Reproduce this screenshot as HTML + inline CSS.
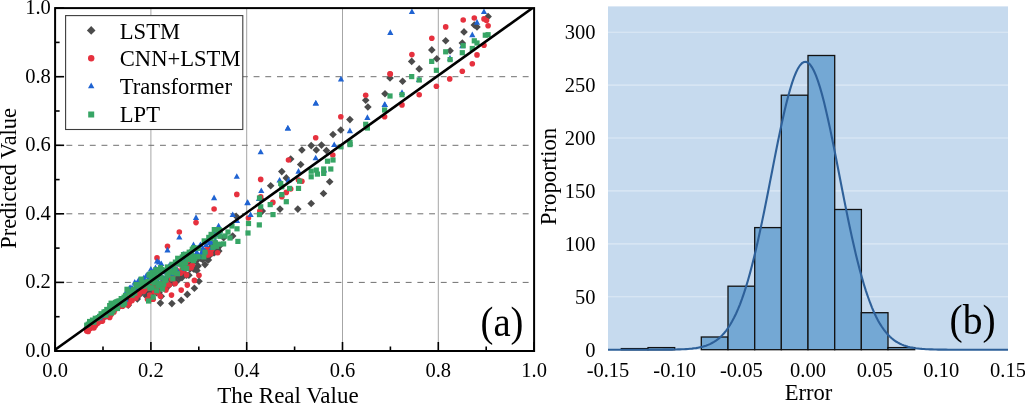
<!DOCTYPE html><html><head><meta charset="utf-8"><title>Figure</title><style>html,body{margin:0;padding:0;background:#fff}svg{display:block}text{font-family:"Liberation Serif","Times New Roman",serif;fill:#000}</style></head><body>
<svg width="1025" height="404" viewBox="0 0 1025 404">
<rect width="1025" height="404" fill="#fff"/>
<line x1="150.9" y1="8.1" x2="150.9" y2="351.0" stroke="#a6a6a6" stroke-width="1"/>
<line x1="55.1" y1="282.4" x2="534.1" y2="282.4" stroke="#707070" stroke-width="1" stroke-dasharray="5.9 5.8" stroke-dashoffset="0.4"/>
<line x1="246.7" y1="8.1" x2="246.7" y2="351.0" stroke="#a6a6a6" stroke-width="1"/>
<line x1="55.1" y1="213.8" x2="534.1" y2="213.8" stroke="#707070" stroke-width="1" stroke-dasharray="5.9 5.8" stroke-dashoffset="0.4"/>
<line x1="342.5" y1="8.1" x2="342.5" y2="351.0" stroke="#a6a6a6" stroke-width="1"/>
<line x1="55.1" y1="145.3" x2="534.1" y2="145.3" stroke="#707070" stroke-width="1" stroke-dasharray="5.9 5.8" stroke-dashoffset="0.4"/>
<line x1="438.3" y1="8.1" x2="438.3" y2="351.0" stroke="#a6a6a6" stroke-width="1"/>
<line x1="55.1" y1="76.7" x2="534.1" y2="76.7" stroke="#707070" stroke-width="1" stroke-dasharray="5.9 5.8" stroke-dashoffset="0.4"/>
<g id="pts">
<path d="M86.7 324.8L90.5 328.6L86.7 332.4L82.9 328.6Z" fill="#4b4b4b"/>
<path d="M88.2 323.9L92.0 327.7L88.2 331.5L84.4 327.7Z" fill="#4b4b4b"/>
<path d="M89.6 321.4L93.4 325.2L89.6 329.0L85.8 325.2Z" fill="#4b4b4b"/>
<path d="M91.0 321.2L94.8 325.0L91.0 328.8L87.2 325.0Z" fill="#4b4b4b"/>
<path d="M92.5 322.2L96.3 326.0L92.5 329.8L88.7 326.0Z" fill="#4b4b4b"/>
<path d="M93.9 318.9L97.7 322.7L93.9 326.5L90.1 322.7Z" fill="#4b4b4b"/>
<path d="M95.3 319.3L99.1 323.1L95.3 326.9L91.5 323.1Z" fill="#4b4b4b"/>
<path d="M96.8 317.4L100.6 321.2L96.8 325.0L93.0 321.2Z" fill="#4b4b4b"/>
<path d="M98.2 316.0L102.0 319.8L98.2 323.6L94.4 319.8Z" fill="#4b4b4b"/>
<path d="M99.6 314.7L103.4 318.5L99.6 322.3L95.8 318.5Z" fill="#4b4b4b"/>
<path d="M101.1 314.6L104.9 318.4L101.1 322.2L97.3 318.4Z" fill="#4b4b4b"/>
<path d="M102.5 313.7L106.3 317.5L102.5 321.3L98.7 317.5Z" fill="#4b4b4b"/>
<path d="M104.0 313.3L107.8 317.1L104.0 320.9L100.2 317.1Z" fill="#4b4b4b"/>
<path d="M105.4 312.2L109.2 316.0L105.4 319.8L101.6 316.0Z" fill="#4b4b4b"/>
<path d="M106.8 312.2L110.6 316.0L106.8 319.8L103.0 316.0Z" fill="#4b4b4b"/>
<path d="M108.3 309.0L112.1 312.8L108.3 316.6L104.5 312.8Z" fill="#4b4b4b"/>
<path d="M109.7 306.2L113.5 310.0L109.7 313.8L105.9 310.0Z" fill="#4b4b4b"/>
<path d="M111.1 307.6L114.9 311.4L111.1 315.2L107.3 311.4Z" fill="#4b4b4b"/>
<path d="M112.6 307.6L116.4 311.4L112.6 315.2L108.8 311.4Z" fill="#4b4b4b"/>
<path d="M114.0 304.2L117.8 308.0L114.0 311.8L110.2 308.0Z" fill="#4b4b4b"/>
<path d="M115.5 304.4L119.3 308.2L115.5 312.0L111.7 308.2Z" fill="#4b4b4b"/>
<path d="M116.9 303.8L120.7 307.6L116.9 311.4L113.1 307.6Z" fill="#4b4b4b"/>
<path d="M118.3 301.8L122.1 305.6L118.3 309.4L114.5 305.6Z" fill="#4b4b4b"/>
<path d="M119.8 302.1L123.6 305.9L119.8 309.7L116.0 305.9Z" fill="#4b4b4b"/>
<path d="M121.2 301.4L125.0 305.2L121.2 309.0L117.4 305.2Z" fill="#4b4b4b"/>
<path d="M122.6 301.6L126.4 305.4L122.6 309.2L118.8 305.4Z" fill="#4b4b4b"/>
<path d="M124.1 297.6L127.9 301.4L124.1 305.2L120.3 301.4Z" fill="#4b4b4b"/>
<path d="M125.5 296.0L129.3 299.8L125.5 303.6L121.7 299.8Z" fill="#4b4b4b"/>
<path d="M127.0 295.9L130.8 299.7L127.0 303.5L123.2 299.7Z" fill="#4b4b4b"/>
<path d="M128.2 301.5L132.0 305.3L128.2 309.1L124.4 305.3Z" fill="#4b4b4b"/>
<path d="M129.5 294.8L133.3 298.6L129.5 302.4L125.7 298.6Z" fill="#4b4b4b"/>
<path d="M130.8 295.4L134.6 299.2L130.8 303.0L127.0 299.2Z" fill="#4b4b4b"/>
<path d="M132.1 293.6L135.9 297.4L132.1 301.2L128.3 297.4Z" fill="#4b4b4b"/>
<path d="M133.4 293.5L137.2 297.3L133.4 301.1L129.6 297.3Z" fill="#4b4b4b"/>
<path d="M134.7 289.6L138.5 293.4L134.7 297.2L130.9 293.4Z" fill="#4b4b4b"/>
<path d="M136.0 291.4L139.8 295.2L136.0 299.0L132.2 295.2Z" fill="#4b4b4b"/>
<path d="M137.3 295.2L141.1 299.0L137.3 302.8L133.5 299.0Z" fill="#4b4b4b"/>
<path d="M138.6 291.9L142.4 295.7L138.6 299.5L134.8 295.7Z" fill="#4b4b4b"/>
<path d="M139.9 287.5L143.7 291.3L139.9 295.1L136.1 291.3Z" fill="#4b4b4b"/>
<path d="M141.2 283.8L145.0 287.6L141.2 291.4L137.4 287.6Z" fill="#4b4b4b"/>
<path d="M142.5 288.4L146.3 292.2L142.5 296.0L138.7 292.2Z" fill="#4b4b4b"/>
<path d="M143.8 283.7L147.6 287.5L143.8 291.3L140.0 287.5Z" fill="#4b4b4b"/>
<path d="M145.1 287.3L148.9 291.1L145.1 294.9L141.3 291.1Z" fill="#4b4b4b"/>
<path d="M146.3 292.2L150.1 296.0L146.3 299.8L142.5 296.0Z" fill="#4b4b4b"/>
<path d="M147.5 286.2L151.3 290.0L147.5 293.8L143.7 290.0Z" fill="#4b4b4b"/>
<path d="M148.6 279.7L152.4 283.5L148.6 287.3L144.8 283.5Z" fill="#4b4b4b"/>
<path d="M149.8 286.6L153.6 290.4L149.8 294.2L146.0 290.4Z" fill="#4b4b4b"/>
<path d="M150.9 290.4L154.7 294.2L150.9 298.0L147.1 294.2Z" fill="#4b4b4b"/>
<path d="M152.1 289.2L155.9 293.0L152.1 296.8L148.3 293.0Z" fill="#4b4b4b"/>
<path d="M153.2 287.2L157.0 291.0L153.2 294.8L149.4 291.0Z" fill="#4b4b4b"/>
<path d="M154.4 284.9L158.2 288.7L154.4 292.5L150.6 288.7Z" fill="#4b4b4b"/>
<path d="M155.5 280.7L159.3 284.5L155.5 288.3L151.7 284.5Z" fill="#4b4b4b"/>
<path d="M156.7 288.9L160.5 292.7L156.7 296.5L152.9 292.7Z" fill="#4b4b4b"/>
<path d="M157.8 281.8L161.6 285.6L157.8 289.4L154.0 285.6Z" fill="#4b4b4b"/>
<path d="M159.0 288.6L162.8 292.4L159.0 296.2L155.2 292.4Z" fill="#4b4b4b"/>
<path d="M160.1 282.0L163.9 285.8L160.1 289.6L156.3 285.8Z" fill="#4b4b4b"/>
<path d="M161.3 292.4L165.1 296.2L161.3 300.0L157.5 296.2Z" fill="#4b4b4b"/>
<path d="M162.4 281.4L166.2 285.2L162.4 289.0L158.6 285.2Z" fill="#4b4b4b"/>
<path d="M163.6 280.1L167.4 283.9L163.6 287.7L159.8 283.9Z" fill="#4b4b4b"/>
<path d="M164.7 284.7L168.5 288.5L164.7 292.3L160.9 288.5Z" fill="#4b4b4b"/>
<path d="M165.9 284.9L169.7 288.7L165.9 292.5L162.1 288.7Z" fill="#4b4b4b"/>
<path d="M167.0 274.1L170.8 277.9L167.0 281.7L163.2 277.9Z" fill="#4b4b4b"/>
<path d="M168.2 279.3L172.0 283.1L168.2 286.9L164.4 283.1Z" fill="#4b4b4b"/>
<path d="M169.3 281.1L173.1 284.9L169.3 288.7L165.5 284.9Z" fill="#4b4b4b"/>
<path d="M170.5 277.1L174.3 280.9L170.5 284.7L166.7 280.9Z" fill="#4b4b4b"/>
<path d="M171.6 277.0L175.4 280.8L171.6 284.6L167.8 280.8Z" fill="#4b4b4b"/>
<path d="M172.8 274.0L176.6 277.8L172.8 281.6L169.0 277.8Z" fill="#4b4b4b"/>
<path d="M173.9 279.3L177.7 283.1L173.9 286.9L170.1 283.1Z" fill="#4b4b4b"/>
<path d="M175.1 273.1L178.9 276.9L175.1 280.7L171.3 276.9Z" fill="#4b4b4b"/>
<path d="M176.2 278.1L180.0 281.9L176.2 285.7L172.4 281.9Z" fill="#4b4b4b"/>
<path d="M177.4 268.6L181.2 272.4L177.4 276.2L173.6 272.4Z" fill="#4b4b4b"/>
<path d="M178.5 271.0L182.3 274.8L178.5 278.6L174.7 274.8Z" fill="#4b4b4b"/>
<path d="M179.7 274.6L183.5 278.4L179.7 282.2L175.9 278.4Z" fill="#4b4b4b"/>
<path d="M180.8 268.3L184.6 272.1L180.8 275.9L177.0 272.1Z" fill="#4b4b4b"/>
<path d="M182.0 273.8L185.8 277.6L182.0 281.4L178.2 277.6Z" fill="#4b4b4b"/>
<path d="M183.1 266.5L186.9 270.3L183.1 274.1L179.3 270.3Z" fill="#4b4b4b"/>
<path d="M184.3 269.6L188.1 273.4L184.3 277.2L180.5 273.4Z" fill="#4b4b4b"/>
<path d="M185.4 270.8L189.2 274.6L185.4 278.4L181.6 274.6Z" fill="#4b4b4b"/>
<path d="M186.6 271.4L190.4 275.2L186.6 279.0L182.8 275.2Z" fill="#4b4b4b"/>
<path d="M187.7 263.6L191.5 267.4L187.7 271.2L183.9 267.4Z" fill="#4b4b4b"/>
<path d="M188.9 271.4L192.7 275.2L188.9 279.0L185.1 275.2Z" fill="#4b4b4b"/>
<path d="M190.0 265.2L193.8 269.0L190.0 272.8L186.2 269.0Z" fill="#4b4b4b"/>
<path d="M191.2 260.0L195.0 263.8L191.2 267.6L187.4 263.8Z" fill="#4b4b4b"/>
<path d="M192.3 262.8L196.1 266.6L192.3 270.4L188.5 266.6Z" fill="#4b4b4b"/>
<path d="M193.5 265.2L197.3 269.0L193.5 272.8L189.7 269.0Z" fill="#4b4b4b"/>
<path d="M194.6 265.2L198.4 269.0L194.6 272.8L190.8 269.0Z" fill="#4b4b4b"/>
<path d="M195.8 257.4L199.6 261.2L195.8 265.0L192.0 261.2Z" fill="#4b4b4b"/>
<path d="M196.9 266.8L200.7 270.6L196.9 274.4L193.1 270.6Z" fill="#4b4b4b"/>
<path d="M198.1 262.1L201.9 265.9L198.1 269.7L194.3 265.9Z" fill="#4b4b4b"/>
<path d="M199.2 254.0L203.0 257.8L199.2 261.6L195.4 257.8Z" fill="#4b4b4b"/>
<path d="M200.4 254.4L204.2 258.2L200.4 262.0L196.6 258.2Z" fill="#4b4b4b"/>
<path d="M201.5 254.3L205.3 258.1L201.5 261.9L197.7 258.1Z" fill="#4b4b4b"/>
<path d="M202.7 255.8L206.5 259.6L202.7 263.4L198.9 259.6Z" fill="#4b4b4b"/>
<path d="M203.8 253.6L207.6 257.4L203.8 261.2L200.0 257.4Z" fill="#4b4b4b"/>
<path d="M205.0 260.8L208.8 264.6L205.0 268.4L201.2 264.6Z" fill="#4b4b4b"/>
<path d="M206.1 253.5L209.9 257.3L206.1 261.1L202.3 257.3Z" fill="#4b4b4b"/>
<path d="M207.3 255.4L211.1 259.2L207.3 263.0L203.5 259.2Z" fill="#4b4b4b"/>
<path d="M208.4 256.2L212.2 260.0L208.4 263.8L204.6 260.0Z" fill="#4b4b4b"/>
<path d="M209.6 251.6L213.4 255.4L209.6 259.2L205.8 255.4Z" fill="#4b4b4b"/>
<path d="M210.7 244.1L214.5 247.9L210.7 251.7L206.9 247.9Z" fill="#4b4b4b"/>
<path d="M211.9 240.8L215.7 244.6L211.9 248.4L208.1 244.6Z" fill="#4b4b4b"/>
<path d="M213.0 248.9L216.8 252.7L213.0 256.5L209.2 252.7Z" fill="#4b4b4b"/>
<path d="M214.2 248.8L218.0 252.6L214.2 256.4L210.4 252.6Z" fill="#4b4b4b"/>
<path d="M215.3 247.8L219.1 251.6L215.3 255.4L211.5 251.6Z" fill="#4b4b4b"/>
<path d="M216.5 246.0L220.3 249.8L216.5 253.6L212.7 249.8Z" fill="#4b4b4b"/>
<path d="M217.6 245.2L221.4 249.0L217.6 252.8L213.8 249.0Z" fill="#4b4b4b"/>
<path d="M218.8 247.3L222.6 251.1L218.8 254.9L215.0 251.1Z" fill="#4b4b4b"/>
<path d="M219.9 241.8L223.7 245.6L219.9 249.4L216.1 245.6Z" fill="#4b4b4b"/>
<path d="M232.7 232.2L236.5 236.0L232.7 239.8L228.9 236.0Z" fill="#4b4b4b"/>
<path d="M411.7 57.6L415.5 61.4L411.7 65.2L407.9 61.4Z" fill="#4b4b4b"/>
<path d="M419.2 65.1L423.0 68.9L419.2 72.7L415.4 68.9Z" fill="#4b4b4b"/>
<path d="M402.6 77.5L406.4 81.3L402.6 85.1L398.8 81.3Z" fill="#4b4b4b"/>
<path d="M390.0 74.2L393.8 78.0L390.0 81.8L386.2 78.0Z" fill="#4b4b4b"/>
<path d="M385.0 90.0L388.8 93.8L385.0 97.6L381.2 93.8Z" fill="#4b4b4b"/>
<path d="M365.7 96.4L369.5 100.2L365.7 104.0L361.9 100.2Z" fill="#4b4b4b"/>
<path d="M367.9 103.2L371.7 107.0L367.9 110.8L364.1 107.0Z" fill="#4b4b4b"/>
<path d="M349.9 115.8L353.7 119.6L349.9 123.4L346.1 119.6Z" fill="#4b4b4b"/>
<path d="M340.8 126.2L344.6 130.0L340.8 133.8L337.0 130.0Z" fill="#4b4b4b"/>
<path d="M488.1 12.8L491.9 16.6L488.1 20.4L484.3 16.6Z" fill="#4b4b4b"/>
<path d="M474.3 21.2L478.1 25.0L474.3 28.8L470.5 25.0Z" fill="#4b4b4b"/>
<path d="M477.0 23.2L480.8 27.0L477.0 30.8L473.2 27.0Z" fill="#4b4b4b"/>
<path d="M464.0 28.1L467.8 31.9L464.0 35.7L460.2 31.9Z" fill="#4b4b4b"/>
<path d="M445.7 37.0L449.5 40.8L445.7 44.6L441.9 40.8Z" fill="#4b4b4b"/>
<path d="M462.3 39.2L466.1 43.0L462.3 46.8L458.5 43.0Z" fill="#4b4b4b"/>
<path d="M431.8 46.1L435.6 49.9L431.8 53.7L428.0 49.9Z" fill="#4b4b4b"/>
<path d="M450.1 46.9L453.9 50.7L450.1 54.5L446.3 50.7Z" fill="#4b4b4b"/>
<path d="M436.8 55.0L440.6 58.8L436.8 62.6L433.0 58.8Z" fill="#4b4b4b"/>
<path d="M160.4 299.3L164.2 303.1L160.4 306.9L156.6 303.1Z" fill="#4b4b4b"/>
<path d="M171.9 299.8L175.7 303.6L171.9 307.4L168.1 303.6Z" fill="#4b4b4b"/>
<path d="M181.2 296.5L185.0 300.3L181.2 304.1L177.4 300.3Z" fill="#4b4b4b"/>
<path d="M187.3 290.6L191.1 294.4L187.3 298.2L183.5 294.4Z" fill="#4b4b4b"/>
<path d="M194.4 284.4L198.2 288.2L194.4 292.0L190.6 288.2Z" fill="#4b4b4b"/>
<path d="M199.0 277.4L202.8 281.2L199.0 285.0L195.2 281.2Z" fill="#4b4b4b"/>
<path d="M150.2 295.6L154.0 299.4L150.2 303.2L146.4 299.4Z" fill="#4b4b4b"/>
<path d="M281.8 167.8L285.6 171.6L281.8 175.4L278.0 171.6Z" fill="#4b4b4b"/>
<path d="M270.7 181.9L274.5 185.7L270.7 189.5L266.9 185.7Z" fill="#4b4b4b"/>
<path d="M286.3 174.1L290.1 177.9L286.3 181.7L282.5 177.9Z" fill="#4b4b4b"/>
<path d="M300.7 160.7L304.5 164.5L300.7 168.3L296.9 164.5Z" fill="#4b4b4b"/>
<path d="M290.7 155.2L294.5 159.0L290.7 162.8L286.9 159.0Z" fill="#4b4b4b"/>
<path d="M301.9 146.2L305.7 150.0L301.9 153.8L298.1 150.0Z" fill="#4b4b4b"/>
<path d="M311.2 141.8L315.0 145.6L311.2 149.4L307.4 145.6Z" fill="#4b4b4b"/>
<path d="M316.3 146.2L320.1 150.0L316.3 153.8L312.5 150.0Z" fill="#4b4b4b"/>
<path d="M321.5 141.3L325.3 145.1L321.5 148.9L317.7 145.1Z" fill="#4b4b4b"/>
<path d="M326.4 146.7L330.2 150.5L326.4 154.3L322.6 150.5Z" fill="#4b4b4b"/>
<path d="M333.0 130.7L336.8 134.5L333.0 138.3L329.2 134.5Z" fill="#4b4b4b"/>
<path d="M329.7 177.9L333.5 181.7L329.7 185.5L325.9 181.7Z" fill="#4b4b4b"/>
<path d="M323.5 189.7L327.3 193.5L323.5 197.3L319.7 193.5Z" fill="#4b4b4b"/>
<path d="M311.2 199.7L315.0 203.5L311.2 207.3L307.4 203.5Z" fill="#4b4b4b"/>
<path d="M297.8 205.3L301.6 209.1L297.8 212.9L294.0 209.1Z" fill="#4b4b4b"/>
<path d="M280.0 205.3L283.8 209.1L280.0 212.9L276.2 209.1Z" fill="#4b4b4b"/>
<path d="M260.7 195.2L264.5 199.0L260.7 202.8L256.9 199.0Z" fill="#4b4b4b"/>
<path d="M223.6 233.9L227.4 237.7L223.6 241.5L219.8 237.7Z" fill="#4b4b4b"/>
<path d="M236.2 212.4L240.0 216.2L236.2 220.0L232.4 216.2Z" fill="#4b4b4b"/>
<path d="M262.3 207.3L266.1 211.1L262.3 214.9L258.5 211.1Z" fill="#4b4b4b"/>
<circle cx="86.7" cy="330.9" r="2.8" fill="#e6313e"/>
<circle cx="88.2" cy="331.4" r="2.8" fill="#e6313e"/>
<circle cx="89.6" cy="329.0" r="2.8" fill="#e6313e"/>
<circle cx="91.0" cy="328.0" r="2.8" fill="#e6313e"/>
<circle cx="92.5" cy="326.5" r="2.8" fill="#e6313e"/>
<circle cx="93.9" cy="328.0" r="2.8" fill="#e6313e"/>
<circle cx="95.3" cy="325.8" r="2.8" fill="#e6313e"/>
<circle cx="96.8" cy="323.7" r="2.8" fill="#e6313e"/>
<circle cx="98.2" cy="322.8" r="2.8" fill="#e6313e"/>
<circle cx="99.6" cy="321.0" r="2.8" fill="#e6313e"/>
<circle cx="101.1" cy="321.3" r="2.8" fill="#e6313e"/>
<circle cx="102.5" cy="321.1" r="2.8" fill="#e6313e"/>
<circle cx="105.4" cy="316.5" r="2.8" fill="#e6313e"/>
<circle cx="106.8" cy="315.9" r="2.8" fill="#e6313e"/>
<circle cx="109.7" cy="317.4" r="2.8" fill="#e6313e"/>
<circle cx="111.1" cy="314.6" r="2.8" fill="#e6313e"/>
<circle cx="112.6" cy="311.6" r="2.8" fill="#e6313e"/>
<circle cx="114.0" cy="311.9" r="2.8" fill="#e6313e"/>
<circle cx="115.5" cy="309.0" r="2.8" fill="#e6313e"/>
<circle cx="116.9" cy="307.5" r="2.8" fill="#e6313e"/>
<circle cx="118.3" cy="307.3" r="2.8" fill="#e6313e"/>
<circle cx="121.2" cy="304.4" r="2.8" fill="#e6313e"/>
<circle cx="122.6" cy="306.3" r="2.8" fill="#e6313e"/>
<circle cx="124.1" cy="303.9" r="2.8" fill="#e6313e"/>
<circle cx="125.5" cy="302.3" r="2.8" fill="#e6313e"/>
<circle cx="127.0" cy="304.4" r="2.8" fill="#e6313e"/>
<circle cx="128.2" cy="305.1" r="2.8" fill="#e6313e"/>
<circle cx="129.5" cy="302.7" r="2.8" fill="#e6313e"/>
<circle cx="130.8" cy="296.8" r="2.8" fill="#e6313e"/>
<circle cx="132.1" cy="300.4" r="2.8" fill="#e6313e"/>
<circle cx="133.4" cy="297.0" r="2.8" fill="#e6313e"/>
<circle cx="134.7" cy="296.4" r="2.8" fill="#e6313e"/>
<circle cx="136.0" cy="297.9" r="2.8" fill="#e6313e"/>
<circle cx="137.3" cy="294.0" r="2.8" fill="#e6313e"/>
<circle cx="138.6" cy="295.0" r="2.8" fill="#e6313e"/>
<circle cx="139.9" cy="292.8" r="2.8" fill="#e6313e"/>
<circle cx="141.2" cy="291.3" r="2.8" fill="#e6313e"/>
<circle cx="142.5" cy="290.7" r="2.8" fill="#e6313e"/>
<circle cx="143.8" cy="291.2" r="2.8" fill="#e6313e"/>
<circle cx="145.1" cy="289.5" r="2.8" fill="#e6313e"/>
<circle cx="146.3" cy="288.5" r="2.8" fill="#e6313e"/>
<circle cx="147.5" cy="299.2" r="2.8" fill="#e6313e"/>
<circle cx="148.6" cy="288.2" r="2.8" fill="#e6313e"/>
<circle cx="149.8" cy="295.0" r="2.8" fill="#e6313e"/>
<circle cx="150.9" cy="285.8" r="2.8" fill="#e6313e"/>
<circle cx="152.1" cy="285.6" r="2.8" fill="#e6313e"/>
<circle cx="153.2" cy="299.3" r="2.8" fill="#e6313e"/>
<circle cx="154.4" cy="291.8" r="2.8" fill="#e6313e"/>
<circle cx="155.5" cy="288.3" r="2.8" fill="#e6313e"/>
<circle cx="156.7" cy="283.0" r="2.8" fill="#e6313e"/>
<circle cx="157.8" cy="292.3" r="2.8" fill="#e6313e"/>
<circle cx="159.0" cy="284.4" r="2.8" fill="#e6313e"/>
<circle cx="160.1" cy="285.7" r="2.8" fill="#e6313e"/>
<circle cx="161.3" cy="286.8" r="2.8" fill="#e6313e"/>
<circle cx="162.4" cy="282.3" r="2.8" fill="#e6313e"/>
<circle cx="163.6" cy="285.0" r="2.8" fill="#e6313e"/>
<circle cx="164.7" cy="286.4" r="2.8" fill="#e6313e"/>
<circle cx="165.9" cy="289.9" r="2.8" fill="#e6313e"/>
<circle cx="167.0" cy="283.0" r="2.8" fill="#e6313e"/>
<circle cx="168.2" cy="272.6" r="2.8" fill="#e6313e"/>
<circle cx="169.3" cy="285.0" r="2.8" fill="#e6313e"/>
<circle cx="170.5" cy="267.0" r="2.8" fill="#e6313e"/>
<circle cx="171.6" cy="279.0" r="2.8" fill="#e6313e"/>
<circle cx="172.8" cy="275.8" r="2.8" fill="#e6313e"/>
<circle cx="173.9" cy="269.0" r="2.8" fill="#e6313e"/>
<circle cx="175.1" cy="283.6" r="2.8" fill="#e6313e"/>
<circle cx="176.2" cy="269.7" r="2.8" fill="#e6313e"/>
<circle cx="177.4" cy="263.7" r="2.8" fill="#e6313e"/>
<circle cx="178.5" cy="273.2" r="2.8" fill="#e6313e"/>
<circle cx="179.7" cy="262.6" r="2.8" fill="#e6313e"/>
<circle cx="180.8" cy="273.1" r="2.8" fill="#e6313e"/>
<circle cx="182.0" cy="269.7" r="2.8" fill="#e6313e"/>
<circle cx="183.1" cy="271.0" r="2.8" fill="#e6313e"/>
<circle cx="184.3" cy="266.7" r="2.8" fill="#e6313e"/>
<circle cx="185.4" cy="267.6" r="2.8" fill="#e6313e"/>
<circle cx="186.6" cy="274.9" r="2.8" fill="#e6313e"/>
<circle cx="187.7" cy="260.6" r="2.8" fill="#e6313e"/>
<circle cx="188.9" cy="267.8" r="2.8" fill="#e6313e"/>
<circle cx="190.0" cy="267.0" r="2.8" fill="#e6313e"/>
<circle cx="191.2" cy="267.7" r="2.8" fill="#e6313e"/>
<circle cx="192.3" cy="265.2" r="2.8" fill="#e6313e"/>
<circle cx="193.5" cy="260.4" r="2.8" fill="#e6313e"/>
<circle cx="195.8" cy="256.6" r="2.8" fill="#e6313e"/>
<circle cx="202.7" cy="253.1" r="2.8" fill="#e6313e"/>
<circle cx="206.1" cy="249.9" r="2.8" fill="#e6313e"/>
<circle cx="207.3" cy="255.0" r="2.8" fill="#e6313e"/>
<circle cx="208.4" cy="254.8" r="2.8" fill="#e6313e"/>
<circle cx="209.6" cy="249.6" r="2.8" fill="#e6313e"/>
<circle cx="210.7" cy="253.8" r="2.8" fill="#e6313e"/>
<circle cx="211.9" cy="249.2" r="2.8" fill="#e6313e"/>
<circle cx="216.5" cy="245.2" r="2.8" fill="#e6313e"/>
<circle cx="217.6" cy="252.7" r="2.8" fill="#e6313e"/>
<circle cx="236.8" cy="194.4" r="2.8" fill="#e6313e"/>
<circle cx="214.1" cy="209.0" r="2.8" fill="#e6313e"/>
<circle cx="196.0" cy="222.6" r="2.8" fill="#e6313e"/>
<circle cx="390.0" cy="73.9" r="2.8" fill="#e6313e"/>
<circle cx="365.7" cy="95.2" r="2.8" fill="#e6313e"/>
<circle cx="340.8" cy="116.8" r="2.8" fill="#e6313e"/>
<circle cx="384.6" cy="116.8" r="2.8" fill="#e6313e"/>
<circle cx="402.0" cy="104.9" r="2.8" fill="#e6313e"/>
<circle cx="419.2" cy="94.7" r="2.8" fill="#e6313e"/>
<circle cx="436.4" cy="86.3" r="2.8" fill="#e6313e"/>
<circle cx="449.7" cy="78.9" r="2.8" fill="#e6313e"/>
<circle cx="463.2" cy="20.0" r="2.8" fill="#e6313e"/>
<circle cx="474.3" cy="18.0" r="2.8" fill="#e6313e"/>
<circle cx="484.0" cy="18.9" r="2.8" fill="#e6313e"/>
<circle cx="486.5" cy="20.5" r="2.8" fill="#e6313e"/>
<circle cx="488.1" cy="25.8" r="2.8" fill="#e6313e"/>
<circle cx="445.7" cy="26.9" r="2.8" fill="#e6313e"/>
<circle cx="431.8" cy="38.3" r="2.8" fill="#e6313e"/>
<circle cx="411.9" cy="54.6" r="2.8" fill="#e6313e"/>
<circle cx="390.3" cy="74.0" r="2.8" fill="#e6313e"/>
<circle cx="484.0" cy="45.2" r="2.8" fill="#e6313e"/>
<circle cx="477.0" cy="54.9" r="2.8" fill="#e6313e"/>
<circle cx="472.3" cy="63.8" r="2.8" fill="#e6313e"/>
<circle cx="462.3" cy="71.3" r="2.8" fill="#e6313e"/>
<circle cx="179.3" cy="232.0" r="2.8" fill="#e6313e"/>
<circle cx="167.5" cy="246.2" r="2.8" fill="#e6313e"/>
<circle cx="157.0" cy="257.9" r="2.8" fill="#e6313e"/>
<circle cx="160.4" cy="296.2" r="2.8" fill="#e6313e"/>
<circle cx="171.5" cy="295.1" r="2.8" fill="#e6313e"/>
<circle cx="181.2" cy="290.1" r="2.8" fill="#e6313e"/>
<circle cx="187.3" cy="285.1" r="2.8" fill="#e6313e"/>
<circle cx="194.4" cy="280.4" r="2.8" fill="#e6313e"/>
<circle cx="199.0" cy="275.3" r="2.8" fill="#e6313e"/>
<circle cx="260.7" cy="179.4" r="2.8" fill="#e6313e"/>
<circle cx="288.5" cy="160.0" r="2.8" fill="#e6313e"/>
<circle cx="315.7" cy="137.8" r="2.8" fill="#e6313e"/>
<circle cx="272.9" cy="202.4" r="2.8" fill="#e6313e"/>
<circle cx="281.8" cy="196.8" r="2.8" fill="#e6313e"/>
<circle cx="286.3" cy="192.4" r="2.8" fill="#e6313e"/>
<circle cx="290.7" cy="189.0" r="2.8" fill="#e6313e"/>
<circle cx="298.5" cy="180.1" r="2.8" fill="#e6313e"/>
<circle cx="301.9" cy="181.2" r="2.8" fill="#e6313e"/>
<circle cx="260.7" cy="196.8" r="2.8" fill="#e6313e"/>
<circle cx="248.4" cy="218.0" r="2.8" fill="#e6313e"/>
<circle cx="332.8" cy="155.0" r="2.8" fill="#e6313e"/>
<circle cx="259.8" cy="211.1" r="2.8" fill="#e6313e"/>
<path d="M98.2 313.3L101.3 318.8L95.1 318.8Z" fill="#1f63d2"/>
<path d="M99.6 314.7L102.7 320.3L96.5 320.3Z" fill="#1f63d2"/>
<path d="M101.1 312.7L104.2 318.2L98.0 318.2Z" fill="#1f63d2"/>
<path d="M102.5 310.6L105.6 316.2L99.4 316.2Z" fill="#1f63d2"/>
<path d="M104.0 309.8L107.1 315.4L100.9 315.4Z" fill="#1f63d2"/>
<path d="M105.4 310.7L108.5 316.3L102.3 316.3Z" fill="#1f63d2"/>
<path d="M106.8 308.5L109.9 314.1L103.7 314.1Z" fill="#1f63d2"/>
<path d="M108.3 308.9L111.4 314.5L105.2 314.5Z" fill="#1f63d2"/>
<path d="M109.7 305.4L112.8 310.9L106.6 310.9Z" fill="#1f63d2"/>
<path d="M111.1 306.9L114.2 312.5L108.0 312.5Z" fill="#1f63d2"/>
<path d="M112.6 304.8L115.7 310.4L109.5 310.4Z" fill="#1f63d2"/>
<path d="M114.0 301.6L117.1 307.2L110.9 307.2Z" fill="#1f63d2"/>
<path d="M115.5 303.6L118.6 309.2L112.4 309.2Z" fill="#1f63d2"/>
<path d="M116.9 303.0L120.0 308.6L113.8 308.6Z" fill="#1f63d2"/>
<path d="M118.3 299.9L121.4 305.5L115.2 305.5Z" fill="#1f63d2"/>
<path d="M119.8 297.6L122.9 303.1L116.7 303.1Z" fill="#1f63d2"/>
<path d="M121.2 296.9L124.3 302.4L118.1 302.4Z" fill="#1f63d2"/>
<path d="M122.6 296.4L125.7 302.0L119.5 302.0Z" fill="#1f63d2"/>
<path d="M124.1 295.8L127.2 301.3L121.0 301.3Z" fill="#1f63d2"/>
<path d="M125.5 296.1L128.6 301.7L122.4 301.7Z" fill="#1f63d2"/>
<path d="M127.0 287.3L130.1 292.9L123.9 292.9Z" fill="#1f63d2"/>
<path d="M128.2 286.7L131.3 292.3L125.1 292.3Z" fill="#1f63d2"/>
<path d="M129.5 284.8L132.6 290.4L126.4 290.4Z" fill="#1f63d2"/>
<path d="M130.8 284.6L133.9 290.2L127.7 290.2Z" fill="#1f63d2"/>
<path d="M132.1 284.7L135.2 290.3L129.0 290.3Z" fill="#1f63d2"/>
<path d="M133.4 286.4L136.5 292.0L130.3 292.0Z" fill="#1f63d2"/>
<path d="M134.7 279.1L137.8 284.7L131.6 284.7Z" fill="#1f63d2"/>
<path d="M136.0 280.3L139.1 285.8L132.9 285.8Z" fill="#1f63d2"/>
<path d="M137.3 284.3L140.4 289.9L134.2 289.9Z" fill="#1f63d2"/>
<path d="M138.6 277.0L141.7 282.6L135.5 282.6Z" fill="#1f63d2"/>
<path d="M139.9 278.6L143.0 284.2L136.8 284.2Z" fill="#1f63d2"/>
<path d="M141.2 278.8L144.3 284.3L138.1 284.3Z" fill="#1f63d2"/>
<path d="M142.5 277.8L145.6 283.3L139.4 283.3Z" fill="#1f63d2"/>
<path d="M143.8 274.7L146.9 280.2L140.7 280.2Z" fill="#1f63d2"/>
<path d="M145.1 277.6L148.2 283.2L142.0 283.2Z" fill="#1f63d2"/>
<path d="M146.3 272.3L149.4 277.9L143.2 277.9Z" fill="#1f63d2"/>
<path d="M147.5 271.4L150.6 277.0L144.4 277.0Z" fill="#1f63d2"/>
<path d="M148.6 274.5L151.7 280.0L145.5 280.0Z" fill="#1f63d2"/>
<path d="M149.8 271.3L152.9 276.8L146.7 276.8Z" fill="#1f63d2"/>
<path d="M150.9 266.0L154.0 271.5L147.8 271.5Z" fill="#1f63d2"/>
<path d="M152.1 270.8L155.2 276.4L149.0 276.4Z" fill="#1f63d2"/>
<path d="M153.2 272.0L156.3 277.6L150.1 277.6Z" fill="#1f63d2"/>
<path d="M154.4 269.7L157.5 275.2L151.3 275.2Z" fill="#1f63d2"/>
<path d="M155.5 264.5L158.6 270.1L152.4 270.1Z" fill="#1f63d2"/>
<path d="M156.7 275.7L159.8 281.3L153.6 281.3Z" fill="#1f63d2"/>
<path d="M157.8 267.2L160.9 272.8L154.7 272.8Z" fill="#1f63d2"/>
<path d="M159.0 259.0L162.1 264.5L155.9 264.5Z" fill="#1f63d2"/>
<path d="M160.1 270.7L163.2 276.3L157.0 276.3Z" fill="#1f63d2"/>
<path d="M161.3 260.5L164.4 266.1L158.2 266.1Z" fill="#1f63d2"/>
<path d="M162.4 268.7L165.5 274.3L159.3 274.3Z" fill="#1f63d2"/>
<path d="M163.6 275.3L166.7 280.9L160.5 280.9Z" fill="#1f63d2"/>
<path d="M164.7 275.4L167.8 281.0L161.6 281.0Z" fill="#1f63d2"/>
<path d="M165.9 267.0L169.0 272.6L162.8 272.6Z" fill="#1f63d2"/>
<path d="M167.0 267.8L170.1 273.4L163.9 273.4Z" fill="#1f63d2"/>
<path d="M168.2 265.6L171.3 271.2L165.1 271.2Z" fill="#1f63d2"/>
<path d="M169.3 262.2L172.4 267.8L166.2 267.8Z" fill="#1f63d2"/>
<path d="M170.5 270.5L173.6 276.1L167.4 276.1Z" fill="#1f63d2"/>
<path d="M171.6 270.3L174.7 275.9L168.5 275.9Z" fill="#1f63d2"/>
<path d="M172.8 265.8L175.9 271.4L169.7 271.4Z" fill="#1f63d2"/>
<path d="M173.9 265.7L177.0 271.3L170.8 271.3Z" fill="#1f63d2"/>
<path d="M175.1 260.8L178.2 266.4L172.0 266.4Z" fill="#1f63d2"/>
<path d="M176.2 259.4L179.3 265.0L173.1 265.0Z" fill="#1f63d2"/>
<path d="M177.4 267.5L180.5 273.1L174.3 273.1Z" fill="#1f63d2"/>
<path d="M178.5 260.2L181.6 265.8L175.4 265.8Z" fill="#1f63d2"/>
<path d="M179.7 256.0L182.8 261.6L176.6 261.6Z" fill="#1f63d2"/>
<path d="M180.8 254.8L183.9 260.4L177.7 260.4Z" fill="#1f63d2"/>
<path d="M182.0 256.6L185.1 262.1L178.9 262.1Z" fill="#1f63d2"/>
<path d="M183.1 251.1L186.2 256.7L180.0 256.7Z" fill="#1f63d2"/>
<path d="M184.3 256.8L187.4 262.4L181.2 262.4Z" fill="#1f63d2"/>
<path d="M185.4 265.5L188.5 271.0L182.3 271.0Z" fill="#1f63d2"/>
<path d="M186.6 254.9L189.7 260.5L183.5 260.5Z" fill="#1f63d2"/>
<path d="M187.7 254.7L190.8 260.3L184.6 260.3Z" fill="#1f63d2"/>
<path d="M188.9 251.4L192.0 256.9L185.8 256.9Z" fill="#1f63d2"/>
<path d="M190.0 251.8L193.1 257.4L186.9 257.4Z" fill="#1f63d2"/>
<path d="M191.2 252.5L194.3 258.0L188.1 258.0Z" fill="#1f63d2"/>
<path d="M192.3 250.0L195.4 255.5L189.2 255.5Z" fill="#1f63d2"/>
<path d="M193.5 241.6L196.6 247.2L190.4 247.2Z" fill="#1f63d2"/>
<path d="M194.6 246.2L197.7 251.8L191.5 251.8Z" fill="#1f63d2"/>
<path d="M195.8 245.1L198.9 250.7L192.7 250.7Z" fill="#1f63d2"/>
<path d="M196.9 249.0L200.0 254.6L193.8 254.6Z" fill="#1f63d2"/>
<path d="M198.1 244.6L201.2 250.2L195.0 250.2Z" fill="#1f63d2"/>
<path d="M199.2 253.6L202.3 259.1L196.1 259.1Z" fill="#1f63d2"/>
<path d="M200.4 241.4L203.5 247.0L197.3 247.0Z" fill="#1f63d2"/>
<path d="M201.5 249.3L204.6 254.9L198.4 254.9Z" fill="#1f63d2"/>
<path d="M202.7 244.9L205.8 250.4L199.6 250.4Z" fill="#1f63d2"/>
<path d="M203.8 247.2L206.9 252.7L200.7 252.7Z" fill="#1f63d2"/>
<path d="M205.0 247.9L208.1 253.4L201.9 253.4Z" fill="#1f63d2"/>
<path d="M206.1 241.5L209.2 247.1L203.0 247.1Z" fill="#1f63d2"/>
<path d="M207.3 237.2L210.4 242.8L204.2 242.8Z" fill="#1f63d2"/>
<path d="M208.4 237.6L211.5 243.2L205.3 243.2Z" fill="#1f63d2"/>
<path d="M209.6 239.4L212.7 245.0L206.5 245.0Z" fill="#1f63d2"/>
<path d="M210.7 238.3L213.8 243.9L207.6 243.9Z" fill="#1f63d2"/>
<path d="M211.9 244.4L215.0 250.0L208.8 250.0Z" fill="#1f63d2"/>
<path d="M213.0 233.4L216.1 239.0L209.9 239.0Z" fill="#1f63d2"/>
<path d="M214.2 230.3L217.3 235.8L211.1 235.8Z" fill="#1f63d2"/>
<path d="M215.3 237.4L218.4 243.0L212.2 243.0Z" fill="#1f63d2"/>
<path d="M216.5 231.6L219.6 237.2L213.4 237.2Z" fill="#1f63d2"/>
<path d="M217.6 227.1L220.7 232.7L214.5 232.7Z" fill="#1f63d2"/>
<path d="M218.8 229.1L221.9 234.7L215.7 234.7Z" fill="#1f63d2"/>
<path d="M219.9 230.7L223.0 236.3L216.8 236.3Z" fill="#1f63d2"/>
<path d="M236.8 173.2L239.9 178.8L233.7 178.8Z" fill="#1f63d2"/>
<path d="M214.1 194.6L217.2 200.2L211.0 200.2Z" fill="#1f63d2"/>
<path d="M196.0 214.3L199.1 219.9L192.9 219.9Z" fill="#1f63d2"/>
<path d="M232.7 211.5L235.8 217.1L229.6 217.1Z" fill="#1f63d2"/>
<path d="M247.4 199.6L250.5 205.2L244.3 205.2Z" fill="#1f63d2"/>
<path d="M341.0 75.8L344.1 81.4L337.9 81.4Z" fill="#1f63d2"/>
<path d="M315.8 99.9L318.9 105.5L312.7 105.5Z" fill="#1f63d2"/>
<path d="M367.4 114.3L370.5 119.9L364.3 119.9Z" fill="#1f63d2"/>
<path d="M384.6 101.3L387.7 106.9L381.5 106.9Z" fill="#1f63d2"/>
<path d="M402.0 89.3L405.1 94.9L398.9 94.9Z" fill="#1f63d2"/>
<path d="M349.9 127.6L353.0 133.2L346.8 133.2Z" fill="#1f63d2"/>
<path d="M419.0 76.3L422.1 81.9L415.9 81.9Z" fill="#1f63d2"/>
<path d="M411.9 8.5L415.0 14.1L408.8 14.1Z" fill="#1f63d2"/>
<path d="M390.3 29.3L393.4 34.9L387.2 34.9Z" fill="#1f63d2"/>
<path d="M484.0 8.5L487.1 14.1L480.9 14.1Z" fill="#1f63d2"/>
<path d="M477.0 19.1L480.1 24.7L473.9 24.7Z" fill="#1f63d2"/>
<path d="M472.3 31.6L475.4 37.2L469.2 37.2Z" fill="#1f63d2"/>
<path d="M462.3 42.6L465.4 48.2L459.2 48.2Z" fill="#1f63d2"/>
<path d="M450.0 55.1L453.1 60.7L446.9 60.7Z" fill="#1f63d2"/>
<path d="M385.0 101.4L388.1 107.0L381.9 107.0Z" fill="#1f63d2"/>
<path d="M287.9 124.9L291.0 130.5L284.8 130.5Z" fill="#1f63d2"/>
<path d="M179.3 233.9L182.4 239.5L176.2 239.5Z" fill="#1f63d2"/>
<path d="M167.5 246.8L170.6 252.4L164.4 252.4Z" fill="#1f63d2"/>
<path d="M157.0 257.9L160.1 263.5L153.9 263.5Z" fill="#1f63d2"/>
<path d="M260.7 148.7L263.8 154.3L257.6 154.3Z" fill="#1f63d2"/>
<path d="M247.7 199.3L250.8 204.9L244.6 204.9Z" fill="#1f63d2"/>
<path d="M261.3 187.5L264.4 193.1L258.2 193.1Z" fill="#1f63d2"/>
<path d="M279.6 177.0L282.7 182.6L276.5 182.6Z" fill="#1f63d2"/>
<path d="M298.5 168.1L301.6 173.7L295.4 173.7Z" fill="#1f63d2"/>
<path d="M315.7 154.7L318.8 160.3L312.6 160.3Z" fill="#1f63d2"/>
<path d="M324.1 167.0L327.2 172.6L321.0 172.6Z" fill="#1f63d2"/>
<path d="M334.2 141.4L337.3 147.0L331.1 147.0Z" fill="#1f63d2"/>
<path d="M288.5 177.0L291.6 182.6L285.4 182.6Z" fill="#1f63d2"/>
<path d="M250.6 211.5L253.7 217.1L247.5 217.1Z" fill="#1f63d2"/>
<path d="M287.9 124.9L291.0 130.5L284.8 130.5Z" fill="#1f63d2"/>
<path d="M315.8 99.9L318.9 105.5L312.7 105.5Z" fill="#1f63d2"/>
<path d="M218.6 222.7L221.7 228.3L215.5 228.3Z" fill="#1f63d2"/>
<path d="M237.0 217.3L240.1 222.9L233.9 222.9Z" fill="#1f63d2"/>
<path d="M259.0 195.4L262.1 201.0L255.9 201.0Z" fill="#1f63d2"/>
<rect x="84.1" y="322.6" width="5.2" height="5.2" fill="#37a565"/>
<rect x="85.6" y="321.6" width="5.2" height="5.2" fill="#37a565"/>
<rect x="87.0" y="318.9" width="5.2" height="5.2" fill="#37a565"/>
<rect x="88.4" y="319.0" width="5.2" height="5.2" fill="#37a565"/>
<rect x="89.9" y="317.5" width="5.2" height="5.2" fill="#37a565"/>
<rect x="91.3" y="319.6" width="5.2" height="5.2" fill="#37a565"/>
<rect x="92.7" y="315.7" width="5.2" height="5.2" fill="#37a565"/>
<rect x="94.2" y="316.0" width="5.2" height="5.2" fill="#37a565"/>
<rect x="95.6" y="315.0" width="5.2" height="5.2" fill="#37a565"/>
<rect x="97.0" y="313.9" width="5.2" height="5.2" fill="#37a565"/>
<rect x="98.5" y="311.2" width="5.2" height="5.2" fill="#37a565"/>
<rect x="99.9" y="311.7" width="5.2" height="5.2" fill="#37a565"/>
<rect x="101.4" y="309.4" width="5.2" height="5.2" fill="#37a565"/>
<rect x="102.8" y="309.1" width="5.2" height="5.2" fill="#37a565"/>
<rect x="103.3" y="312.6" width="5.2" height="5.2" fill="#37a565"/>
<rect x="104.2" y="306.9" width="5.2" height="5.2" fill="#37a565"/>
<rect x="105.7" y="306.9" width="5.2" height="5.2" fill="#37a565"/>
<rect x="107.1" y="303.0" width="5.2" height="5.2" fill="#37a565"/>
<rect x="108.5" y="300.6" width="5.2" height="5.2" fill="#37a565"/>
<rect x="109.0" y="310.4" width="5.2" height="5.2" fill="#37a565"/>
<rect x="110.0" y="302.5" width="5.2" height="5.2" fill="#37a565"/>
<rect x="110.5" y="308.2" width="5.2" height="5.2" fill="#37a565"/>
<rect x="111.4" y="301.3" width="5.2" height="5.2" fill="#37a565"/>
<rect x="112.9" y="299.8" width="5.2" height="5.2" fill="#37a565"/>
<rect x="114.3" y="299.1" width="5.2" height="5.2" fill="#37a565"/>
<rect x="114.8" y="305.9" width="5.2" height="5.2" fill="#37a565"/>
<rect x="115.7" y="298.5" width="5.2" height="5.2" fill="#37a565"/>
<rect x="117.2" y="298.4" width="5.2" height="5.2" fill="#37a565"/>
<rect x="118.6" y="296.0" width="5.2" height="5.2" fill="#37a565"/>
<rect x="120.0" y="296.0" width="5.2" height="5.2" fill="#37a565"/>
<rect x="120.5" y="302.3" width="5.2" height="5.2" fill="#37a565"/>
<rect x="121.5" y="294.6" width="5.2" height="5.2" fill="#37a565"/>
<rect x="122.0" y="300.6" width="5.2" height="5.2" fill="#37a565"/>
<rect x="122.9" y="292.8" width="5.2" height="5.2" fill="#37a565"/>
<rect x="124.4" y="286.7" width="5.2" height="5.2" fill="#37a565"/>
<rect x="125.6" y="289.5" width="5.2" height="5.2" fill="#37a565"/>
<rect x="126.9" y="288.9" width="5.2" height="5.2" fill="#37a565"/>
<rect x="128.2" y="290.2" width="5.2" height="5.2" fill="#37a565"/>
<rect x="129.5" y="292.6" width="5.2" height="5.2" fill="#37a565"/>
<rect x="130.8" y="287.0" width="5.2" height="5.2" fill="#37a565"/>
<rect x="132.1" y="290.6" width="5.2" height="5.2" fill="#37a565"/>
<rect x="133.4" y="282.0" width="5.2" height="5.2" fill="#37a565"/>
<rect x="134.7" y="282.2" width="5.2" height="5.2" fill="#37a565"/>
<rect x="136.0" y="283.6" width="5.2" height="5.2" fill="#37a565"/>
<rect x="137.3" y="282.5" width="5.2" height="5.2" fill="#37a565"/>
<rect x="138.6" y="276.5" width="5.2" height="5.2" fill="#37a565"/>
<rect x="139.9" y="280.0" width="5.2" height="5.2" fill="#37a565"/>
<rect x="141.2" y="283.6" width="5.2" height="5.2" fill="#37a565"/>
<rect x="142.5" y="281.3" width="5.2" height="5.2" fill="#37a565"/>
<rect x="143.7" y="282.4" width="5.2" height="5.2" fill="#37a565"/>
<rect x="144.1" y="279.8" width="5.2" height="5.2" fill="#37a565"/>
<rect x="144.9" y="280.9" width="5.2" height="5.2" fill="#37a565"/>
<rect x="145.2" y="278.9" width="5.2" height="5.2" fill="#37a565"/>
<rect x="146.0" y="298.4" width="5.2" height="5.2" fill="#37a565"/>
<rect x="146.4" y="272.6" width="5.2" height="5.2" fill="#37a565"/>
<rect x="147.2" y="285.4" width="5.2" height="5.2" fill="#37a565"/>
<rect x="147.5" y="271.5" width="5.2" height="5.2" fill="#37a565"/>
<rect x="148.3" y="279.2" width="5.2" height="5.2" fill="#37a565"/>
<rect x="148.7" y="274.7" width="5.2" height="5.2" fill="#37a565"/>
<rect x="149.5" y="285.2" width="5.2" height="5.2" fill="#37a565"/>
<rect x="149.8" y="270.1" width="5.2" height="5.2" fill="#37a565"/>
<rect x="150.6" y="294.5" width="5.2" height="5.2" fill="#37a565"/>
<rect x="151.0" y="270.7" width="5.2" height="5.2" fill="#37a565"/>
<rect x="151.8" y="279.9" width="5.2" height="5.2" fill="#37a565"/>
<rect x="152.1" y="271.6" width="5.2" height="5.2" fill="#37a565"/>
<rect x="152.9" y="275.7" width="5.2" height="5.2" fill="#37a565"/>
<rect x="153.3" y="267.1" width="5.2" height="5.2" fill="#37a565"/>
<rect x="154.1" y="288.1" width="5.2" height="5.2" fill="#37a565"/>
<rect x="154.4" y="274.3" width="5.2" height="5.2" fill="#37a565"/>
<rect x="155.2" y="282.7" width="5.2" height="5.2" fill="#37a565"/>
<rect x="155.6" y="269.4" width="5.2" height="5.2" fill="#37a565"/>
<rect x="156.4" y="280.7" width="5.2" height="5.2" fill="#37a565"/>
<rect x="156.7" y="267.3" width="5.2" height="5.2" fill="#37a565"/>
<rect x="157.5" y="282.9" width="5.2" height="5.2" fill="#37a565"/>
<rect x="157.9" y="265.1" width="5.2" height="5.2" fill="#37a565"/>
<rect x="158.7" y="275.2" width="5.2" height="5.2" fill="#37a565"/>
<rect x="159.0" y="266.9" width="5.2" height="5.2" fill="#37a565"/>
<rect x="159.8" y="286.5" width="5.2" height="5.2" fill="#37a565"/>
<rect x="160.2" y="267.6" width="5.2" height="5.2" fill="#37a565"/>
<rect x="161.0" y="281.6" width="5.2" height="5.2" fill="#37a565"/>
<rect x="162.1" y="278.0" width="5.2" height="5.2" fill="#37a565"/>
<rect x="163.3" y="277.4" width="5.2" height="5.2" fill="#37a565"/>
<rect x="164.4" y="273.1" width="5.2" height="5.2" fill="#37a565"/>
<rect x="164.8" y="264.4" width="5.2" height="5.2" fill="#37a565"/>
<rect x="165.6" y="272.0" width="5.2" height="5.2" fill="#37a565"/>
<rect x="165.9" y="267.4" width="5.2" height="5.2" fill="#37a565"/>
<rect x="166.7" y="265.1" width="5.2" height="5.2" fill="#37a565"/>
<rect x="167.9" y="269.1" width="5.2" height="5.2" fill="#37a565"/>
<rect x="169.0" y="269.2" width="5.2" height="5.2" fill="#37a565"/>
<rect x="169.4" y="261.7" width="5.2" height="5.2" fill="#37a565"/>
<rect x="170.2" y="276.2" width="5.2" height="5.2" fill="#37a565"/>
<rect x="170.5" y="262.0" width="5.2" height="5.2" fill="#37a565"/>
<rect x="171.3" y="270.3" width="5.2" height="5.2" fill="#37a565"/>
<rect x="172.5" y="266.9" width="5.2" height="5.2" fill="#37a565"/>
<rect x="172.8" y="259.5" width="5.2" height="5.2" fill="#37a565"/>
<rect x="173.6" y="260.5" width="5.2" height="5.2" fill="#37a565"/>
<rect x="174.0" y="260.6" width="5.2" height="5.2" fill="#37a565"/>
<rect x="174.8" y="271.1" width="5.2" height="5.2" fill="#37a565"/>
<rect x="175.1" y="255.7" width="5.2" height="5.2" fill="#37a565"/>
<rect x="175.9" y="260.1" width="5.2" height="5.2" fill="#37a565"/>
<rect x="177.1" y="256.7" width="5.2" height="5.2" fill="#37a565"/>
<rect x="178.2" y="261.6" width="5.2" height="5.2" fill="#37a565"/>
<rect x="178.6" y="256.2" width="5.2" height="5.2" fill="#37a565"/>
<rect x="179.4" y="262.5" width="5.2" height="5.2" fill="#37a565"/>
<rect x="179.7" y="254.4" width="5.2" height="5.2" fill="#37a565"/>
<rect x="180.5" y="265.1" width="5.2" height="5.2" fill="#37a565"/>
<rect x="180.9" y="252.0" width="5.2" height="5.2" fill="#37a565"/>
<rect x="181.7" y="261.9" width="5.2" height="5.2" fill="#37a565"/>
<rect x="182.8" y="260.1" width="5.2" height="5.2" fill="#37a565"/>
<rect x="183.2" y="251.6" width="5.2" height="5.2" fill="#37a565"/>
<rect x="184.0" y="265.9" width="5.2" height="5.2" fill="#37a565"/>
<rect x="185.1" y="256.3" width="5.2" height="5.2" fill="#37a565"/>
<rect x="186.3" y="256.9" width="5.2" height="5.2" fill="#37a565"/>
<rect x="186.6" y="249.6" width="5.2" height="5.2" fill="#37a565"/>
<rect x="187.4" y="256.8" width="5.2" height="5.2" fill="#37a565"/>
<rect x="188.6" y="254.1" width="5.2" height="5.2" fill="#37a565"/>
<rect x="188.9" y="249.2" width="5.2" height="5.2" fill="#37a565"/>
<rect x="189.7" y="246.7" width="5.2" height="5.2" fill="#37a565"/>
<rect x="190.9" y="258.0" width="5.2" height="5.2" fill="#37a565"/>
<rect x="191.2" y="245.1" width="5.2" height="5.2" fill="#37a565"/>
<rect x="192.0" y="255.9" width="5.2" height="5.2" fill="#37a565"/>
<rect x="192.4" y="245.8" width="5.2" height="5.2" fill="#37a565"/>
<rect x="193.2" y="253.9" width="5.2" height="5.2" fill="#37a565"/>
<rect x="195.5" y="254.1" width="5.2" height="5.2" fill="#37a565"/>
<rect x="195.8" y="245.7" width="5.2" height="5.2" fill="#37a565"/>
<rect x="201.2" y="254.3" width="5.2" height="5.2" fill="#37a565"/>
<rect x="201.6" y="238.3" width="5.2" height="5.2" fill="#37a565"/>
<rect x="202.4" y="249.6" width="5.2" height="5.2" fill="#37a565"/>
<rect x="206.2" y="234.8" width="5.2" height="5.2" fill="#37a565"/>
<rect x="208.1" y="235.8" width="5.2" height="5.2" fill="#37a565"/>
<rect x="208.5" y="231.8" width="5.2" height="5.2" fill="#37a565"/>
<rect x="209.6" y="232.6" width="5.2" height="5.2" fill="#37a565"/>
<rect x="210.4" y="244.7" width="5.2" height="5.2" fill="#37a565"/>
<rect x="211.6" y="234.3" width="5.2" height="5.2" fill="#37a565"/>
<rect x="212.7" y="240.1" width="5.2" height="5.2" fill="#37a565"/>
<rect x="213.9" y="243.7" width="5.2" height="5.2" fill="#37a565"/>
<rect x="214.2" y="227.1" width="5.2" height="5.2" fill="#37a565"/>
<rect x="215.4" y="230.5" width="5.2" height="5.2" fill="#37a565"/>
<rect x="216.2" y="241.6" width="5.2" height="5.2" fill="#37a565"/>
<rect x="216.5" y="227.1" width="5.2" height="5.2" fill="#37a565"/>
<rect x="217.3" y="233.7" width="5.2" height="5.2" fill="#37a565"/>
<rect x="217.7" y="228.2" width="5.2" height="5.2" fill="#37a565"/>
<rect x="256.7" y="222.3" width="5.2" height="5.2" fill="#37a565"/>
<rect x="245.4" y="230.4" width="5.2" height="5.2" fill="#37a565"/>
<rect x="245.9" y="220.9" width="5.2" height="5.2" fill="#37a565"/>
<rect x="429.1" y="58.8" width="5.2" height="5.2" fill="#37a565"/>
<rect x="433.8" y="67.7" width="5.2" height="5.2" fill="#37a565"/>
<rect x="409.1" y="74.0" width="5.2" height="5.2" fill="#37a565"/>
<rect x="416.6" y="77.4" width="5.2" height="5.2" fill="#37a565"/>
<rect x="387.4" y="93.4" width="5.2" height="5.2" fill="#37a565"/>
<rect x="399.4" y="92.1" width="5.2" height="5.2" fill="#37a565"/>
<rect x="382.0" y="107.4" width="5.2" height="5.2" fill="#37a565"/>
<rect x="363.1" y="121.7" width="5.2" height="5.2" fill="#37a565"/>
<rect x="364.8" y="125.4" width="5.2" height="5.2" fill="#37a565"/>
<rect x="347.4" y="139.7" width="5.2" height="5.2" fill="#37a565"/>
<rect x="347.4" y="142.0" width="5.2" height="5.2" fill="#37a565"/>
<rect x="338.4" y="144.2" width="5.2" height="5.2" fill="#37a565"/>
<rect x="482.7" y="32.6" width="5.2" height="5.2" fill="#37a565"/>
<rect x="485.5" y="32.1" width="5.2" height="5.2" fill="#37a565"/>
<rect x="471.7" y="38.2" width="5.2" height="5.2" fill="#37a565"/>
<rect x="474.4" y="40.4" width="5.2" height="5.2" fill="#37a565"/>
<rect x="469.7" y="45.9" width="5.2" height="5.2" fill="#37a565"/>
<rect x="460.6" y="43.1" width="5.2" height="5.2" fill="#37a565"/>
<rect x="459.7" y="50.1" width="5.2" height="5.2" fill="#37a565"/>
<rect x="443.1" y="49.2" width="5.2" height="5.2" fill="#37a565"/>
<rect x="447.5" y="57.0" width="5.2" height="5.2" fill="#37a565"/>
<rect x="256.9" y="195.4" width="5.2" height="5.2" fill="#37a565"/>
<rect x="258.1" y="204.2" width="5.2" height="5.2" fill="#37a565"/>
<rect x="256.9" y="212.0" width="5.2" height="5.2" fill="#37a565"/>
<rect x="270.4" y="212.0" width="5.2" height="5.2" fill="#37a565"/>
<rect x="267.6" y="202.0" width="5.2" height="5.2" fill="#37a565"/>
<rect x="279.2" y="192.0" width="5.2" height="5.2" fill="#37a565"/>
<rect x="283.7" y="199.1" width="5.2" height="5.2" fill="#37a565"/>
<rect x="279.2" y="184.2" width="5.2" height="5.2" fill="#37a565"/>
<rect x="287.0" y="185.8" width="5.2" height="5.2" fill="#37a565"/>
<rect x="295.9" y="185.8" width="5.2" height="5.2" fill="#37a565"/>
<rect x="297.0" y="178.6" width="5.2" height="5.2" fill="#37a565"/>
<rect x="308.6" y="168.6" width="5.2" height="5.2" fill="#37a565"/>
<rect x="308.6" y="174.2" width="5.2" height="5.2" fill="#37a565"/>
<rect x="313.7" y="167.5" width="5.2" height="5.2" fill="#37a565"/>
<rect x="314.8" y="171.5" width="5.2" height="5.2" fill="#37a565"/>
<rect x="321.1" y="166.4" width="5.2" height="5.2" fill="#37a565"/>
<rect x="321.1" y="170.8" width="5.2" height="5.2" fill="#37a565"/>
<rect x="324.9" y="158.6" width="5.2" height="5.2" fill="#37a565"/>
<rect x="328.2" y="166.4" width="5.2" height="5.2" fill="#37a565"/>
<rect x="330.4" y="157.4" width="5.2" height="5.2" fill="#37a565"/>
<rect x="278.1" y="180.9" width="5.2" height="5.2" fill="#37a565"/>
<rect x="211.7" y="227.0" width="5.2" height="5.2" fill="#37a565"/>
<rect x="221.0" y="241.3" width="5.2" height="5.2" fill="#37a565"/>
<rect x="234.4" y="226.2" width="5.2" height="5.2" fill="#37a565"/>
<rect x="235.3" y="238.8" width="5.2" height="5.2" fill="#37a565"/>
<rect x="225.4" y="229.4" width="5.2" height="5.2" fill="#37a565"/>
<rect x="229.4" y="223.4" width="5.2" height="5.2" fill="#37a565"/>
<rect x="222.4" y="233.4" width="5.2" height="5.2" fill="#37a565"/>
<rect x="227.4" y="235.4" width="5.2" height="5.2" fill="#37a565"/>
</g>
<clipPath id="fc"><rect x="55.1" y="8.1" width="479.0" height="342.9"/></clipPath>
<line x1="55.1" y1="349.8" x2="534.1" y2="6.8999999999999995" stroke="#000" stroke-width="2.6" clip-path="url(#fc)"/>
<rect x="55.1" y="8.1" width="479.0" height="342.9" fill="none" stroke="#000" stroke-width="2"/>
<line x1="55.1" y1="351.0" x2="64.1" y2="351.0" stroke="#000" stroke-width="1.6"/>
<line x1="55.1" y1="351.0" x2="55.1" y2="342.0" stroke="#000" stroke-width="1.6"/>
<line x1="55.1" y1="316.7" x2="59.6" y2="316.7" stroke="#000" stroke-width="1.6"/>
<line x1="103.0" y1="351.0" x2="103.0" y2="346.5" stroke="#000" stroke-width="1.6"/>
<line x1="55.1" y1="282.4" x2="64.1" y2="282.4" stroke="#000" stroke-width="1.6"/>
<line x1="150.9" y1="351.0" x2="150.9" y2="342.0" stroke="#000" stroke-width="1.6"/>
<line x1="55.1" y1="248.1" x2="59.6" y2="248.1" stroke="#000" stroke-width="1.6"/>
<line x1="198.8" y1="351.0" x2="198.8" y2="346.5" stroke="#000" stroke-width="1.6"/>
<line x1="55.1" y1="213.8" x2="64.1" y2="213.8" stroke="#000" stroke-width="1.6"/>
<line x1="246.7" y1="351.0" x2="246.7" y2="342.0" stroke="#000" stroke-width="1.6"/>
<line x1="55.1" y1="179.6" x2="59.6" y2="179.6" stroke="#000" stroke-width="1.6"/>
<line x1="294.6" y1="351.0" x2="294.6" y2="346.5" stroke="#000" stroke-width="1.6"/>
<line x1="55.1" y1="145.3" x2="64.1" y2="145.3" stroke="#000" stroke-width="1.6"/>
<line x1="342.5" y1="351.0" x2="342.5" y2="342.0" stroke="#000" stroke-width="1.6"/>
<line x1="55.1" y1="111.0" x2="59.6" y2="111.0" stroke="#000" stroke-width="1.6"/>
<line x1="390.4" y1="351.0" x2="390.4" y2="346.5" stroke="#000" stroke-width="1.6"/>
<line x1="55.1" y1="76.7" x2="64.1" y2="76.7" stroke="#000" stroke-width="1.6"/>
<line x1="438.3" y1="351.0" x2="438.3" y2="342.0" stroke="#000" stroke-width="1.6"/>
<line x1="55.1" y1="42.4" x2="59.6" y2="42.4" stroke="#000" stroke-width="1.6"/>
<line x1="486.2" y1="351.0" x2="486.2" y2="346.5" stroke="#000" stroke-width="1.6"/>
<line x1="55.1" y1="8.1" x2="64.1" y2="8.1" stroke="#000" stroke-width="1.6"/>
<line x1="534.1" y1="351.0" x2="534.1" y2="342.0" stroke="#000" stroke-width="1.6"/>
<text x="50.8" y="357.0" font-size="20.5" text-anchor="end">0.0</text>
<text x="55.1" y="376.6" font-size="20.5" text-anchor="middle">0.0</text>
<text x="50.8" y="288.4" font-size="20.5" text-anchor="end">0.2</text>
<text x="150.9" y="376.6" font-size="20.5" text-anchor="middle">0.2</text>
<text x="50.8" y="219.8" font-size="20.5" text-anchor="end">0.4</text>
<text x="246.7" y="376.6" font-size="20.5" text-anchor="middle">0.4</text>
<text x="50.8" y="151.3" font-size="20.5" text-anchor="end">0.6</text>
<text x="342.5" y="376.6" font-size="20.5" text-anchor="middle">0.6</text>
<text x="50.8" y="82.7" font-size="20.5" text-anchor="end">0.8</text>
<text x="438.3" y="376.6" font-size="20.5" text-anchor="middle">0.8</text>
<text x="50.8" y="14.1" font-size="20.5" text-anchor="end">1.0</text>
<text x="534.1" y="376.6" font-size="20.5" text-anchor="middle">1.0</text>
<text x="288" y="403.4" font-size="23" text-anchor="middle">The Real Value</text>
<text transform="translate(15.7,178.4) rotate(-90)" font-size="22.4" text-anchor="middle">Predicted Value</text>
<rect x="65.6" y="15.6" width="177.2" height="113.9" fill="#fff" stroke="#3c3c3c" stroke-width="1.1"/>
<path d="M91.2 26.1L95.5 30.4L91.2 34.7L86.9 30.4Z" fill="#4b4b4b"/>
<circle cx="91.2" cy="58.2" r="3.2" fill="#e6313e"/>
<path d="M91.2 82.4L94.4 88.2L88.0 88.2Z" fill="#1f63d2"/>
<rect x="88.2" y="111.5" width="6.0" height="6.0" fill="#37a565"/>
<text x="119.8" y="38.6" font-size="22.6">LSTM</text>
<text x="119.8" y="66.3" font-size="22.6">CNN+LSTM</text>
<text x="119.8" y="94.4" font-size="22.6">Transformer</text>
<text x="119.8" y="122.3" font-size="22.6">LPT</text>
<text transform="translate(480.5,335.5) scale(0.9,1)" font-size="43">(a)</text>
<rect x="608.0" y="6.4" width="400.0" height="343.3" fill="#c6daee"/>
<line x1="608.0" y1="296.8" x2="1008.0" y2="296.8" stroke="#dde9f5" stroke-width="1.1"/>
<text x="595.5" y="303.8" font-size="20.5" text-anchor="end">50</text>
<line x1="608.0" y1="243.9" x2="1008.0" y2="243.9" stroke="#dde9f5" stroke-width="1.1"/>
<text x="595.5" y="250.9" font-size="20.5" text-anchor="end">100</text>
<line x1="608.0" y1="190.9" x2="1008.0" y2="190.9" stroke="#dde9f5" stroke-width="1.1"/>
<text x="595.5" y="197.9" font-size="20.5" text-anchor="end">150</text>
<line x1="608.0" y1="138.0" x2="1008.0" y2="138.0" stroke="#dde9f5" stroke-width="1.1"/>
<text x="595.5" y="145.0" font-size="20.5" text-anchor="end">200</text>
<line x1="608.0" y1="85.1" x2="1008.0" y2="85.1" stroke="#dde9f5" stroke-width="1.1"/>
<text x="595.5" y="92.1" font-size="20.5" text-anchor="end">250</text>
<line x1="608.0" y1="32.2" x2="1008.0" y2="32.2" stroke="#dde9f5" stroke-width="1.1"/>
<text x="595.5" y="39.2" font-size="20.5" text-anchor="end">300</text>
<text x="595.5" y="356.7" font-size="20.5" text-anchor="end">0</text>
<rect x="621.3" y="348.6" width="26.7" height="1.1" fill="#74a8d4" stroke="#111" stroke-width="1.3"/>
<rect x="648.0" y="347.6" width="26.7" height="2.1" fill="#74a8d4" stroke="#111" stroke-width="1.3"/>
<rect x="701.3" y="337.0" width="26.7" height="12.7" fill="#74a8d4" stroke="#111" stroke-width="1.3"/>
<rect x="728.0" y="286.2" width="26.7" height="63.5" fill="#74a8d4" stroke="#111" stroke-width="1.3"/>
<rect x="754.7" y="227.6" width="26.7" height="122.1" fill="#74a8d4" stroke="#111" stroke-width="1.3"/>
<rect x="781.3" y="95.2" width="26.7" height="254.5" fill="#74a8d4" stroke="#111" stroke-width="1.3"/>
<rect x="808.0" y="55.5" width="26.7" height="294.2" fill="#74a8d4" stroke="#111" stroke-width="1.3"/>
<rect x="834.7" y="209.5" width="26.7" height="140.2" fill="#74a8d4" stroke="#111" stroke-width="1.3"/>
<rect x="861.3" y="312.7" width="26.7" height="37.0" fill="#74a8d4" stroke="#111" stroke-width="1.3"/>
<rect x="888.0" y="347.6" width="26.7" height="2.1" fill="#74a8d4" stroke="#111" stroke-width="1.3"/>
<path d="M608.0 349.7L610.0 349.7L612.0 349.7L614.0 349.7L616.0 349.7L618.0 349.7L620.0 349.7L622.0 349.7L624.0 349.7L626.0 349.7L628.0 349.7L630.0 349.7L632.0 349.7L634.0 349.7L636.0 349.7L638.0 349.7L640.0 349.7L642.0 349.7L644.0 349.7L646.0 349.7L648.0 349.7L650.0 349.7L652.0 349.7L654.0 349.7L656.0 349.7L658.0 349.7L660.0 349.7L662.0 349.7L664.0 349.6L666.0 349.6L668.0 349.6L670.0 349.6L672.0 349.6L674.0 349.5L676.0 349.5L678.0 349.4L680.0 349.4L682.0 349.3L684.0 349.2L686.0 349.1L688.0 349.0L690.0 348.8L692.0 348.6L694.0 348.3L696.0 348.1L698.0 347.7L700.0 347.3L702.0 346.9L704.0 346.3L706.0 345.7L708.0 344.9L710.0 344.1L712.0 343.0L714.0 341.9L716.0 340.6L718.0 339.1L720.0 337.4L722.0 335.4L724.0 333.2L726.0 330.8L728.0 328.0L730.0 325.0L732.0 321.6L734.0 317.8L736.0 313.7L738.0 309.2L740.0 304.3L742.0 298.9L744.0 293.1L746.0 286.9L748.0 280.2L750.0 273.1L752.0 265.6L754.0 257.6L756.0 249.2L758.0 240.5L760.0 231.3L762.0 221.9L764.0 212.2L766.0 202.3L768.0 192.2L770.0 181.9L772.0 171.7L774.0 161.4L776.0 151.3L778.0 141.3L780.0 131.6L782.0 122.2L784.0 113.3L786.0 104.8L788.0 96.9L790.0 89.7L792.0 83.1L794.0 77.4L796.0 72.5L798.0 68.4L800.0 65.3L802.0 63.2L804.0 62.0L806.0 61.9L808.0 62.7L810.0 64.5L812.0 67.3L814.0 71.0L816.0 75.6L818.0 81.1L820.0 87.4L822.0 94.4L824.0 102.1L826.0 110.4L828.0 119.2L830.0 128.4L832.0 138.0L834.0 147.9L836.0 158.0L838.0 168.2L840.0 178.5L842.0 188.8L844.0 198.9L846.0 208.9L848.0 218.7L850.0 228.2L852.0 237.5L854.0 246.3L856.0 254.9L858.0 263.0L860.0 270.7L862.0 277.9L864.0 284.7L866.0 291.1L868.0 297.0L870.0 302.5L872.0 307.6L874.0 312.2L876.0 316.5L878.0 320.4L880.0 323.9L882.0 327.0L884.0 329.9L886.0 332.4L888.0 334.7L890.0 336.7L892.0 338.5L894.0 340.1L896.0 341.5L898.0 342.7L900.0 343.7L902.0 344.6L904.0 345.4L906.0 346.1L908.0 346.7L910.0 347.2L912.0 347.6L914.0 348.0L916.0 348.3L918.0 348.5L920.0 348.7L922.0 348.9L924.0 349.0L926.0 349.2L928.0 349.3L930.0 349.4L932.0 349.4L934.0 349.5L936.0 349.5L938.0 349.6L940.0 349.6L942.0 349.6L944.0 349.6L946.0 349.6L948.0 349.7L950.0 349.7L952.0 349.7L954.0 349.7L956.0 349.7L958.0 349.7L960.0 349.7L962.0 349.7L964.0 349.7L966.0 349.7L968.0 349.7L970.0 349.7L972.0 349.7L974.0 349.7L976.0 349.7L978.0 349.7L980.0 349.7L982.0 349.7L984.0 349.7L986.0 349.7L988.0 349.7L990.0 349.7L992.0 349.7L994.0 349.7L996.0 349.7L998.0 349.7L1000.0 349.7L1002.0 349.7L1004.0 349.7L1006.0 349.7L1008.0 349.7" fill="none" stroke="#2e6099" stroke-width="2.1"/>
<text x="608.0" y="377" font-size="20.5" text-anchor="middle">-0.15</text>
<text x="674.7" y="377" font-size="20.5" text-anchor="middle">-0.10</text>
<text x="741.3" y="377" font-size="20.5" text-anchor="middle">-0.05</text>
<text x="808.0" y="377" font-size="20.5" text-anchor="middle">0.00</text>
<text x="874.7" y="377" font-size="20.5" text-anchor="middle">0.05</text>
<text x="941.3" y="377" font-size="20.5" text-anchor="middle">0.10</text>
<text x="1008.0" y="377" font-size="20.5" text-anchor="middle">0.15</text>
<text x="808.5" y="399.6" font-size="22.6" text-anchor="middle">Error</text>
<text transform="translate(555.5,176.5) rotate(-90)" font-size="22.8" text-anchor="middle">Proportion</text>
<text transform="translate(949.5,333.5) scale(0.92,1)" font-size="43">(b)</text>
</svg></body></html>
